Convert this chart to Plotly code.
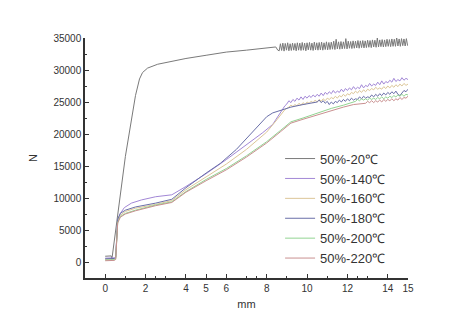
import numpy as np
import plotly.graph_objects as go

# ---------------- data ----------------
# smooth (pre-yield) portions of each curve: displacement (mm) / force (N)
x_20 = [0.0, 0.3, 0.33, 0.6, 1.0, 1.5, 1.7, 1.85, 2.1, 2.6, 3.2, 4.0, 5.0, 6.0, 7.0, 8.0, 8.45, 8.55]
y_20 = [900, 950, 400, 7000, 16500, 26000, 28600, 29600, 30300, 30900, 31300, 31800, 32300, 32800, 33100, 33450, 33600, 33100]

x_140 = [0.0, 0.45, 0.52, 0.62, 0.75, 0.95, 1.3, 1.8, 2.5, 3.3, 4.0, 5.0, 6.0, 7.0, 7.8, 8.3, 8.6, 8.9]
y_140 = [600, 650, 800, 6500, 7600, 8500, 9200, 9700, 10200, 10500, 11800, 13800, 16000, 18300, 20200, 21500, 23000, 24400]

x_160 = [0.0, 0.45, 0.52, 0.62, 0.75, 1.0, 1.5, 2.0, 2.5, 3.3, 4.0, 5.0, 6.0, 7.0, 8.0, 8.5, 8.9]
y_160 = [400, 450, 600, 6300, 7300, 7900, 8400, 8700, 9000, 9600, 11300, 13300, 15300, 17600, 20300, 22200, 23800]

x_180 = [0.0, 0.45, 0.52, 0.62, 0.75, 1.0, 1.5, 2.0, 2.5, 3.3, 4.0, 5.0, 5.7, 6.5, 7.3, 8.0, 8.3, 8.7, 9.2, 9.8, 10.4]
y_180 = [500, 550, 700, 6700, 7600, 8100, 8600, 8900, 9200, 9800, 11600, 13900, 15400, 17600, 20300, 22700, 23300, 23700, 24200, 24600, 24900]

x_200 = [0.0, 0.45, 0.52, 0.62, 0.75, 1.0, 1.5, 2.0, 2.5, 3.3, 4.0, 5.0, 6.0, 7.0, 8.0, 8.7, 9.2, 9.8, 10.5, 11.2, 11.8, 12.3]
y_200 = [300, 350, 500, 6200, 7100, 7600, 8100, 8500, 8900, 9400, 11000, 12900, 14600, 16600, 18800, 20600, 21900, 22500, 23300, 24000, 24500, 24950]

x_220 = [0.0, 0.45, 0.52, 0.62, 0.75, 1.0, 1.5, 2.0, 2.5, 3.3, 4.0, 5.0, 6.0, 7.0, 8.0, 8.7, 9.2, 9.8, 10.5, 11.2, 11.8, 12.3, 12.8]
y_220 = [200, 250, 400, 6100, 7000, 7500, 8000, 8400, 8800, 9300, 10900, 12700, 14400, 16400, 18600, 20400, 21700, 22300, 23000, 23700, 24200, 24600, 24800]

# serrated (stick-slip) portions: start, end, and sampled force values
noisy_20 = (8.62, 14.98, [
    33000, 34100, 33050, 34200, 32950, 34150, 33100, 34250, 33000, 34100, 33050, 34200, 33100, 34150, 33000, 34250, 33100,
    34200, 33050, 34300, 33100, 34200, 33000, 34250, 33150, 34300, 33100, 34200, 33050, 34350, 33150, 34250, 33100, 34300,
    33150, 34350, 33100, 34250, 33200, 34400, 33150, 34300, 33200, 34350, 33250, 34500, 33200, 34800, 33300, 34400, 33250,
    34450, 33300, 34400, 33350, 34900, 33300, 34500, 33400, 34450, 33350, 34550, 33400, 34500, 33450, 34600, 33400, 34550,
    33500, 34600, 33450, 34550, 33500, 34650, 33550, 34600, 33500, 34700, 33600, 34650, 33550, 35000, 33600, 34700, 33650,
    34750, 33600, 34700, 33650, 34800, 33700, 34750, 33650, 34850, 33700, 34800, 33700, 35100, 33750, 34850, 33700, 34900,
    33800, 34850, 33750, 34900, 33800])

noisy_140 = (9.0, 15.0, [
    24700, 25200, 24900, 25400, 25100, 25600, 25300, 25800, 25400, 25900,
    25600, 26000, 25700, 26100, 25800, 26200, 25900, 26400, 26000, 26500,
    26200, 26600, 26300, 26800, 26400, 26700, 26500, 27000, 26600, 27100,
    26800, 27200, 26900, 27400, 27000, 27300, 27100, 27700, 27200, 27600,
    27400, 27900, 27500, 27800, 27600, 28100, 27700, 28300, 27800, 28200,
    28000, 28400, 28100, 28700, 28200, 28500, 28300, 28800, 28400, 28700,
    28500])

noisy_160 = (9.1, 15.0, [
    24200, 24500, 24300, 24600, 24400, 24800, 24500, 24900, 24600, 25000,
    24800, 25100, 24900, 25300, 25000, 25400, 25100, 25500, 25200, 25600,
    25400, 25700, 25500, 25900, 25600, 26000, 25800, 26200, 25900, 26300,
    26100, 26500, 26300, 26700, 26400, 26800, 26500, 26900, 26600, 27000,
    26800, 27100, 26900, 27300, 27000, 27200, 27000, 27400, 27100, 27500,
    27200, 27600, 27300, 27700, 27400, 27800, 27500, 27900, 27600, 27800])

noisy_180 = (10.5, 15.0, [
    25000, 25300, 24900, 25200, 24800, 25100, 24600, 25000, 24700, 25100,
    24900, 25300, 25000, 25400, 25100, 25500, 25200, 25600, 25300, 25500,
    25400, 25800, 25500, 25900, 25600, 25800, 25700, 26100, 25800, 26200,
    25900, 26300, 26000, 26400, 26100, 26500, 26200, 26600, 26300, 26700,
    26200, 26000, 26500, 26800, 26600, 27000])

noisy_200 = (12.4, 15.0, [
    25100, 25400, 25200, 25500, 25300, 25500, 25300, 25600, 25400, 25600,
    25400, 25700, 25500, 25800, 25500, 25800, 25600, 25900, 25700, 26000,
    25800, 26100, 25900, 26200, 25900, 26200, 26100])

noisy_220 = (12.9, 15.0, [
    24800, 25100, 24900, 25200, 24900, 25200, 25000, 25300, 25000, 25400,
    25100, 25400, 25200, 25500, 25200, 25500, 25300, 25700, 25400, 25700,
    25600, 25900])

names = ["50%-20℃", "50%-140℃", "50%-160℃", "50%-180℃", "50%-200℃", "50%-220℃"]
colors = ["#7a7a7a", "#a287d6", "#dcc698", "#6a6fa8", "#92d492", "#c99090"]

series = [
    (x_20, y_20, noisy_20),
    (x_140, y_140, noisy_140),
    (x_160, y_160, noisy_160),
    (x_180, y_180, noisy_180),
    (x_200, y_200, noisy_200),
    (x_220, y_220, noisy_220),
]

x_tickvals = [0, 2, 4, 5, 6, 8, 10, 12, 14, 15]
x_minor = [1, 2.5, 3, 7, 7.5, 9, 11, 12.5, 13]

# ---------------- figure ----------------
fig = go.Figure()
for name, color, (xs, ys, (n0, n1, nv)) in zip(names, colors, series):
    nx = np.linspace(n0, n1, len(nv))
    fig.add_trace(go.Scatter(
        x=list(xs) + list(nx), y=list(ys) + list(nv),
        mode="lines", name=name,
        line=dict(color=color, width=1),
    ))

font_family = "Liberation Sans, Arial, sans-serif"

fig.update_layout(
    width=474, height=335,
    margin=dict(l=85, r=66, t=38, b=57),
    paper_bgcolor="white", plot_bgcolor="white",
    font=dict(family=font_family, color="#333333", size=10),
    showlegend=True,
    legend=dict(
        x=0.604, y=0.56, xanchor="left", yanchor="top",
        bgcolor="rgba(0,0,0,0)", borderwidth=0,
        font=dict(size=13, color="#333333", family=font_family),
        itemwidth=30, tracegroupgap=0,
    ),
)

fig.update_xaxes(
    range=[-1, 15],
    showline=True, linecolor="#333333", linewidth=1.5,
    showgrid=False, zeroline=False,
    ticks="inside", ticklen=4, tickwidth=1, tickcolor="#333333",
    tickmode="array", tickvals=x_tickvals, ticktext=[str(v) for v in x_tickvals],
    minor=dict(ticks="inside", ticklen=2, tickwidth=1, tickcolor="#333333",
               tickmode="array", tickvals=x_minor, showgrid=False),
    tickfont=dict(size=10),
    title=dict(text="mm", font=dict(size=11), standoff=8),
)

fig.update_yaxes(
    range=[-2500, 35000],
    showline=True, linecolor="#333333", linewidth=1.5,
    showgrid=False, zeroline=False,
    ticks="inside", ticklen=4, tickwidth=1, tickcolor="#333333",
    tickmode="linear", tick0=0, dtick=5000, tickformat="d",
    minor=dict(ticks="inside", ticklen=2, tickwidth=1, tickcolor="#333333",
               tick0=0, dtick=2500, showgrid=False),
    tickfont=dict(size=10),
    title=dict(text="N", font=dict(size=11), standoff=14),
)

fig.write_html("out.html")
